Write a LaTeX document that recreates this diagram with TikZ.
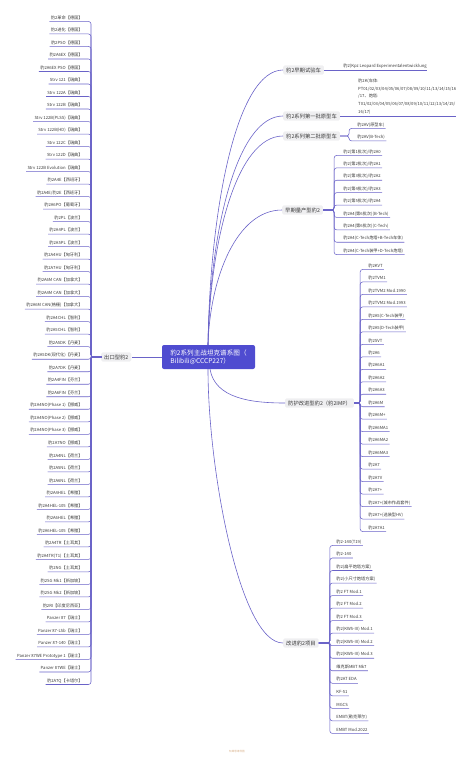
\documentclass[tikz,border=0pt]{standalone}
\usepackage{fontspec}
\setmainfont{Noto Sans CJK SC}
\newfontfamily\cjk{Noto Sans CJK SC}
\definecolor{linec}{HTML}{6A63C8}
\definecolor{rootc}{HTML}{4F4CD0}
\definecolor{txtc}{HTML}{3A3A3A}
\definecolor{brc}{HTML}{EFEFF1}
\tikzset{
  leaf/.style={font=\cjk\fontsize{4.2}{5}\selectfont, text=txtc, inner xsep=1.2pt, inner ysep=1.2pt, text height=3.2pt, text depth=0.9pt},
  mleaf/.style={font=\cjk\fontsize{4.2}{7.7}\selectfont, text=txtc, inner xsep=0pt, inner ysep=1.6pt, align=left},
  branch/.style={font=\cjk\fontsize{5.3}{6}\selectfont, text=txtc, fill=brc, rounded corners=1.5pt, inner xsep=3pt, inner ysep=2.2pt},
  conn/.style={draw=linec, line width=0.55pt, rounded corners=2.5pt},
  curve/.style={draw=linec, line width=0.6pt},
}
\begin{document}
\begin{tikzpicture}[x=1pt,y=-1pt]
\useasboundingbox (0,0) rectangle (474,758);
\node[fill=rootc, rounded corners=2pt, minimum width=93pt, minimum height=24pt, text=white, align=left, font=\cjk\fontsize{6.6}{8.5}\selectfont, inner xsep=7pt] (root) at (208.5,357) {豹2系列主战坦克谱系图（\\Bilibili@CCCP227）};

% branch nodes
\node[branch, anchor=west] (ex) at (101,357) {出口型豹2};
\node[branch, anchor=west] (b1) at (283,70) {豹2早期试验车};
\node[branch, anchor=west] (b2) at (283,116) {豹2系列第一批原型车};
\node[branch, anchor=west] (b3) at (283,136) {豹2系列第二批原型车};
\node[branch, anchor=west] (b4) at (282,210) {早期量产型豹2};
\node[branch, anchor=west] (b5) at (285,403) {防护改进型豹2（豹2IMP）};
\node[branch, anchor=west] (b6) at (283,643) {改进豹2项目};

% root connectors
\draw[conn] (root.west) -- (ex.east);
\draw[curve] ([xshift=-0.5pt]root.north) .. controls (210,207) and (237,70) .. (b1.west);
\draw[curve] ([xshift=-0.5pt]root.north) .. controls (210,230) and (237,116) .. (b2.west);
\draw[curve] ([xshift=-0.5pt]root.north) .. controls (210,240) and (237,136) .. (b3.west);
\draw[curve] ([xshift=-0.5pt]root.north) .. controls (210,277) and (237,210) .. (b4.west);
\draw[curve] ([xshift=1.5pt]root.south) .. controls (215,398) and (250,403) .. (b5.west);
\draw[curve] ([xshift=-0.5pt]root.south) .. controls (208,470) and (240,643) .. (b6.west);

% left: export variants
\foreach \t [count=\i] in {豹2革命【德国】, 豹2进化【德国】, 豹2PSO【德国】, 豹2A6EX【德国】, 豹2A6EX PSO【德国】, Strv 121【瑞典】, Strv 122A【瑞典】, Strv 122B【瑞典】, Strv 122B(PLSS)【瑞典】, Strv 122B(HD)【瑞典】, Strv 122C【瑞典】, Strv 122D【瑞典】, Strv 122B Evolution【瑞典】, 豹2A4E【西班牙】, 豹2A4E/豹2E【西班牙】, 豹2A6PO【葡萄牙】, 豹2PL【波兰】, 豹2A4PL【波兰】, 豹2A5PL【波兰】, 豹2A4HU【匈牙利】, 豹2A7HU【匈牙利】, 豹2A6M CAN【加拿大】, 豹2A4M CAN【加拿大】, 豹2A6M CAN(格栅)【加拿大】, 豹2A4CHL【智利】, 豹2A5CHL【智利】, 豹2A5DK【丹麦】, 豹2A5DK(现代化)【丹麦】, 豹2A7DK【丹麦】, 豹2A4FIN【芬兰】, 豹2A6FIN【芬兰】, 豹2A4NO(Phase 1)【挪威】, 豹2A4NO(Phase 2)【挪威】, 豹2A4NO(Phase 3)【挪威】, 豹2A7NO【挪威】, 豹2A4NL【荷兰】, 豹2A5NL【荷兰】, 豹2A6NL【荷兰】, 豹2A4HEL【希腊】, 豹2A4HEL-105【希腊】, 豹2A6HEL【希腊】, 豹2A6HEL-105【希腊】, 豹2A4TR【土耳其】, 豹2A4TR(T1)【土耳其】, 豹2NG【土耳其】, 豹2SG Mk1【新加坡】, 豹2SG Mk2【新加坡】, 豹2RI【印度尼西亚】, Panzer 87【瑞士】, Panzer 87-LSb【瑞士】, Panzer 87-140【瑞士】, Panzer 87WE Prototype 1【瑞士】, Panzer 87WE【瑞士】, 豹2A7Q【卡塔尔】}{
  \node[leaf, anchor=east] (L\i) at (84,{18+12.51*(\i-1)}) {\t};
  \draw[conn] (ex.west) -- ([xshift=-10pt]ex.west) |- (L\i.south east) -- (L\i.south west);
}

% b1
\node[mleaf, anchor=south west] (l1) at ([xshift=19pt]b1.east) {豹2(Kpz Leopard Experimentalentwicklung};
\draw[conn] (b1.east) -- (l1.south east);
% b2
\node[mleaf, anchor=south west] (l2) at ([xshift=18pt]b2.east) {豹2K(车体:\\PT01/02/03/04/05/06/07/08/09/10/11/13/14/15/16\\/17、炮塔:\\T01/02/03/04/05/06/07/08/09/10/11/12/13/14/15/\\16/17)};
\draw[conn] (b2.east) -- (l2.south east);
% b3
\foreach \t [count=\i] in {豹2AV(原型车), 豹2AV(B-Tech)}{
  \node[leaf, anchor=west] (T\i) at (356,{125+12.4*(\i-1)}) {\t};
  \draw[conn] (b3.east) -- ([xshift=9pt]b3.east) |- (T\i.south west) -- (T\i.south east);
}
% b4
\foreach \t [count=\i] in {豹2(第1批次)/豹2A0, 豹2(第2批次)/豹2A1, 豹2(第3批次)/豹2A2, 豹2(第4批次)/豹2A3, 豹2(第5批次)/豹2A4, 豹2A4(第6批次)(B-Tech), 豹2A4(第6批次)(C-Tech), 豹2A4(C-Tech炮塔+B-Tech车体), 豹2A4(C-Tech装甲+D-Tech炮塔)}{
  \node[leaf, anchor=west] (P\i) at (342,{152+12.4*(\i-1)}) {\t};
  \draw[conn] (b4.east) -- ([xshift=11pt]b4.east) |- (P\i.south west) -- (P\i.south east);
}
% b5
\foreach \t [count=\i] in {豹2KVT, 豹2TVM1, 豹2TVM2 Mod.1990, 豹2TVM2 Mod.1993, 豹2A5(C-Tech装甲), 豹2A5(D-Tech装甲), 豹2SVT, 豹2A6, 豹2A6A1, 豹2A6A2, 豹2A6A3, 豹2A6M, 豹2A6M+, 豹2A6MA1, 豹2A6MA2, 豹2A6MA3, 豹2A7, 豹2A7V, 豹2A7+, 豹2A7+(城市作战套件), 豹2A7+(选装型HV), 豹2A7A1}{
  \node[leaf, anchor=west] (Q\i) at (367,{266+12.48*(\i-1)}) {\t};
  \draw[conn] (b5.east) -- ([xshift=6pt]b5.east) |- (Q\i.south west) -- (Q\i.south east);
}
% b6
\foreach \t [count=\i] in {豹2-140(T19), 豹2-140, 豹2(扁平炮塔方案), 豹2(小尺寸炮塔方案), 豹2 FT Mod.1, 豹2 FT Mod.2, 豹2 FT Mod.3, 豹2(KWS-III) Mod.1, 豹2(KWS-III) Mod.2, 豹2(KWS-III) Mod.3, 维克斯MBT Mk7, 豹2AT EDA, KF-51, MGCS, EMBT(勒克莱尔), EMBT Mod.2022}{
  \node[leaf, anchor=west] (S\i) at (335,{542+12.53*(\i-1)}) {\t};
  \draw[conn] (b6.east) -- ([xshift=11pt]b6.east) |- (S\i.south west) -- (S\i.south east);
}
\node[font=\cjk\fontsize{2.6}{3}\selectfont, text=orange!50!gray!60] (wm) at (237,752) {知犀思维导图};
\end{tikzpicture}
\end{document}
